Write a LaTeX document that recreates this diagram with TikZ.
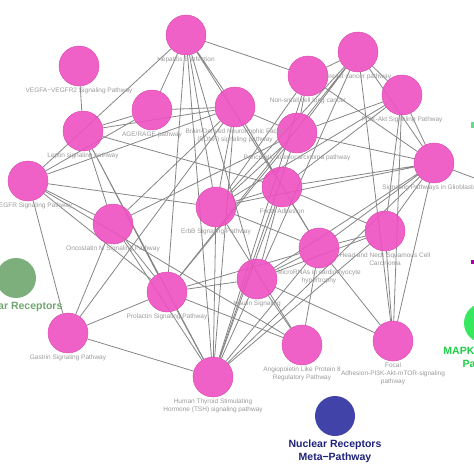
\documentclass[tikz,border=0pt]{standalone}
\usepackage{fontspec}
\setmainfont{Liberation Sans}
\usetikzlibrary{positioning,backgrounds}
\definecolor{pwfill}{HTML}{EE50C2}
\definecolor{pwedge}{HTML}{D946B0}
\definecolor{linkgray}{HTML}{858585}
\definecolor{lbltxt}{HTML}{9A9A9A}
\definecolor{nrgreen}{HTML}{6FA66F}
\definecolor{nrblue}{HTML}{2C2FA0}
\definecolor{nrbluetxt}{HTML}{1E2278}
\definecolor{mapkgreen}{HTML}{22E650}
\tikzset{pathway/.style={circle,draw=pwedge,fill=pwfill,fill opacity=0.9,
  minimum size=40pt,inner sep=0pt,line width=0.4pt},
  lbl/.style={align=center,inner sep=0pt,text=lbltxt,
  font=\fontsize{6.5}{8}\selectfont},
  grp/.style={align=center,inner sep=0pt,font=\bfseries\fontsize{10.5}{13}\selectfont},
  link/.style={draw=linkgray,line width=0.8pt}}

\begin{document}
\begin{tikzpicture}[x=1pt,y=-1pt,node distance=1pt]
\useasboundingbox (0,0) rectangle (474,474);
% pathway circles
\node[pathway] (hep) at (186,35) {};
\node[pathway] (vegfa) at (79,66) {};
\node[pathway] (age) at (152,110) {};
\node[pathway] (leptin) at (83,131) {};
\node[pathway] (bdnf) at (235,107) {};
\node[pathway] (breast) at (358,52) {};
\node[pathway] (nsclc) at (308,76) {};
\node[pathway] (pi3k) at (402,95) {};
\node[pathway] (panc) at (297,133) {};
\node[pathway] (glio) at (434,163) {};
\node[pathway] (egfr) at (28,181) {};
\node[pathway] (onco) at (113,224) {};
\node[pathway] (erbb) at (216,207) {};
\node[pathway] (focal) at (282,187) {};
\node[pathway] (mirna) at (319,248) {};
\node[pathway] (hnscc) at (385,231) {};
\node[pathway] (insulin) at (257,279) {};
\node[pathway] (prolactin) at (167,292) {};
\node[pathway] (gastrin) at (68,333) {};
\node[pathway] (tsh) at (213,377) {};
\node[pathway] (angptl8) at (302,345) {};
\node[pathway] (fapi3k) at (393,341) {};
% group circles
\node[pathway,draw=none,fill=nrgreen] (nrleft) at (16,278) {};
\node[pathway,draw=none,fill=nrblue] (nrmeta) at (335,416) {};
\node[pathway,draw=none,fill=mapkgreen] (mapk) at (484,323) {};
\coordinate (offright) at (520,195);
% labels
\node[lbl,below=of hep] (hepl) {Hepatitis B infection};
\node[lbl,below=of vegfa] (vegfal) {VEGFA−VEGFR2 Signaling Pathway};
\node[lbl,below=of age] (agel) {AGE/RAGE pathway};
\node[lbl,below=of leptin] (leptinl) {Leptin signaling pathway};
\node[lbl,below=of bdnf] (bdnfl) {Brain-Derived Neurotrophic Factor\\(BDNF) signaling pathway};
\node[lbl,below=of breast] (breastl) {Breast cancer pathway};
\node[lbl,below=of nsclc] (nsclcl) {Non-small cell lung cancer};
\node[lbl,below=of pi3k] (pi3kl) {PI3K-Akt Signaling Pathway};
\node[lbl,below=of panc] (pancl) {Pancreatic adenocarcinoma pathway};
\node[lbl,below=of glio] (gliol) {Signaling Pathways in Glioblastoma};
\node[lbl,below=of egfr] (egfrl) {EGF/EGFR Signaling Pathway};
\node[lbl,below=of onco] (oncol) {Oncostatin M Signaling Pathway};
\node[lbl,below=of erbb] (erbbl) {ErbB Signaling Pathway};
\node[lbl,below=of focal] (focall) {Focal Adhesion};
\node[lbl,below=of mirna] (mirnal) {MicroRNAs in cardiomyocyte\\hypertrophy};
\node[lbl,below=of hnscc] (hnsccl) {Head and Neck Squamous Cell\\Carcinoma};
\node[lbl,below=of insulin] (insulinl) {Insulin Signaling};
\node[lbl,below=of prolactin] (prolactinl) {Prolactin Signaling Pathway};
\node[lbl,below=of gastrin] (gastrinl) {Gastrin Signaling Pathway};
\node[lbl,below=of tsh] (tshl) {Human Thyroid Stimulating\\Hormone (TSH) signaling pathway};
\node[lbl,below=of angptl8] (angptl8l) {Angiopoietin Like Protein 8\\Regulatory Pathway};
\node[lbl,below=of fapi3k] (fapi3kl) {Focal\\Adhesion-PI3K-Akt-mTOR-signaling\\pathway};
\node[grp,text=nrgreen,below=3pt of nrleft] (nrleftl) {Nuclear Receptors};
\node[grp,text=nrbluetxt,below=3pt of nrmeta] (nrmetal) {Nuclear Receptors\\Meta−Pathway};
\node[grp,text=mapkgreen!90!black,below=3pt of mapk] (mapkl) {MAPK Signaling\\Pathway};
% cut-off bits at the right edge
\fill[teal!45!green!60] (471,122) rectangle (474,128);
\fill[violet!70!magenta] (471,260) rectangle (474,264);
% links
\begin{scope}[on background layer]
\draw[link] (hep)--(nsclc) (hep)--(age) (hep)--(egfr) (hep)--(bdnf) (hep)--(prolactin)
  (hep)--(tsh) (hep)--(erbb) (hep)--(insulin) (hep)--(focal);
\draw[link] (vegfa)--(leptin);
\draw[link] (leptin)--(age) (leptin)--(bdnf) (leptin)--(onco) (leptin)--(prolactin)
  (leptin)--(tsh) (leptin)--(focal);
\draw[link] (age)--(bdnf) (age)--(egfr);
\draw[link] (bdnf)--(egfr) (bdnf)--(onco) (bdnf)--(erbb) (bdnf)--(gastrin) (bdnf)--(focal)
  (bdnf)--(mirna) (bdnf)--(tsh) (bdnf)--(panc);
\draw[link] (breast)--(nsclc) (breast)--(glio) (breast)--(pi3k) (breast)--(panc)
  (breast)--(erbb) (breast)--(prolactin) (breast)--(fapi3k) (breast)--(insulin);
\draw[link] (nsclc)--(glio) (nsclc)--(panc) (nsclc)--(erbb) (nsclc)--(tsh);
\draw[link] (pi3k)--(panc) (pi3k)--(glio) (pi3k)--(focal) (pi3k)--(hnscc) (pi3k)--(fapi3k)
  (pi3k)--(erbb);
\draw[link] (panc)--(glio) (panc)--(erbb) (panc)--(onco) (panc)--(prolactin) (panc)--(tsh);
\draw[link] (glio)--(focal) (glio)--(erbb) (glio)--(hnscc) (glio)--(mirna) (glio)--(insulin)
  (glio)--(fapi3k) (glio)--(tsh) (glio)--(offright);
\draw[link] (egfr)--(erbb) (egfr)--(onco) (egfr)--(prolactin) (egfr)--(gastrin)
  (egfr)--(angptl8);
\draw[link] (onco)--(prolactin) (onco)--(gastrin) (onco)--(tsh);
\draw[link] (erbb)--(focal) (erbb)--(tsh) (erbb)--(angptl8) (erbb)--(mirna);
\draw[link] (focal)--(hnscc) (focal)--(mirna) (focal)--(insulin) (focal)--(tsh);
\draw[link] (mirna)--(hnscc) (mirna)--(insulin) (mirna)--(prolactin) (mirna)--(fapi3k)
  (mirna)--(tsh) (mirna)--(angptl8);
\draw[link] (hnscc)--(insulin) (hnscc)--(fapi3k) (hnscc)--(tsh);
\draw[link] (insulin)--(prolactin) (insulin)--(angptl8) (insulin)--(fapi3k) (insulin)--(tsh);
\draw[link] (prolactin)--(angptl8) (prolactin)--(gastrin) (prolactin)--(tsh);
\draw[link] (gastrin)--(tsh);
\end{scope}
\end{tikzpicture}
\end{document}
